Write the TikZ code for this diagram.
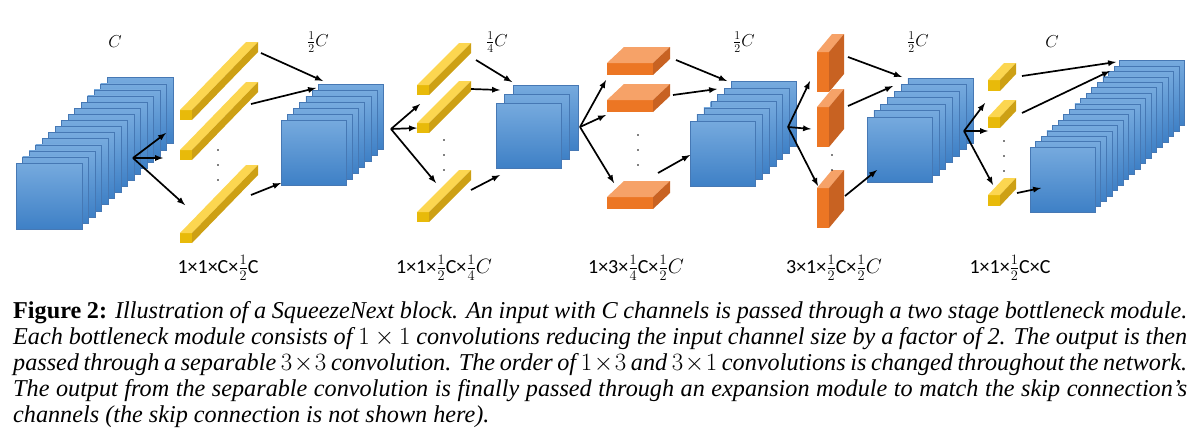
\documentclass[tikz,border=0pt]{standalone}
\usepackage{fontspec}
\setmainfont{Liberation Serif}
\newfontfamily\lbl{Carlito}
\begin{document}
\definecolor{bl1}{RGB}{118,170,222}
\definecolor{bl2}{RGB}{62,128,198}
\definecolor{blE}{RGB}{70,120,180}
\definecolor{yF}{RGB}{232,186,10}
\definecolor{yT}{RGB}{252,214,80}
\definecolor{yS}{RGB}{205,160,20}
\definecolor{oF}{RGB}{236,118,36}
\definecolor{oT}{RGB}{246,162,104}
\definecolor{oS}{RGB}{200,98,34}
\newcommand{\mystack}[6]{% x y size n stepx stepy
  \foreach \i in {#4,...,0}{
    \shade[top color=bl1,bottom color=bl2,draw=blE,line width=0.4pt]
      ({#1+\i*#5},{#2-\i*#6}) rectangle ++(#3,#3);
  }}
\newcommand{\myprism}[9]{% x y w h dx dy front top side
  \fill[#7] (#1,#2) rectangle ++(#3,#4);
  \fill[#8] (#1,#2) -- ++(#5,#6) -- ++(#3,0) -- ({#1+#3},#2) -- cycle;
  \fill[#9] ({#1+#3},#2) -- ++(#5,#6) -- ++(0,#4) -- ({#1+#3},{#2+#4}) -- cycle;}
\begin{tikzpicture}[x=1pt,y=-1pt,
  arr/.style={-latex,line width=1.7pt},
  dot/.style={circle,fill=black,inner sep=0.6pt},
  top/.style={font=\fontsize{18}{20}\selectfont},
  bot/.style={font=\lbl\fontsize{20}{22}\selectfont}]
\useasboundingbox (0,0) rectangle (1201,442);
% stacks
\mystack{16}{163}{66}{14}{6.5}{6.1}
\mystack{281}{120}{65}{6}{6.2}{5.9}
\mystack{496}{103}{65}{2}{8.5}{9}
\mystack{690}{121}{65}{6}{6.9}{6.6}
\mystack{867}{117}{65}{6}{6.8}{6.5}
\mystack{1030}{147}{65}{16}{5.6}{5.4}
% group 1 yellow bars
\foreach \y in {110,150,233}{\myprism{180}{\y}{12}{10}{66}{-68}{yF}{yT}{yS}}
% group 2
\foreach \y in {85,123,212}{\myprism{417}{\y}{12}{10}{42}{-42}{yF}{yT}{yS}}
% group 3 orange slabs
\foreach \y in {63,100,197}{\myprism{607}{\y}{46}{12}{17}{-16}{oF}{oT}{oS}}
% group 4 orange vertical
\foreach \y in {52,107,188}{\myprism{817}{\y}{12}{40}{15}{-18}{oF}{oT}{oS}}
% group 5 cubes
\foreach \y in {80,117,195}{\myprism{988}{\y}{12}{11}{16}{-17}{yF}{yT}{yS}}
% dots
\foreach \x/\a/\b/\c in {218/150/165/180,444/140/155/170,638/135/150/165,1004/141/156/171}{
  \node[dot] at (\x,\a) {}; \node[dot] at (\x,\b) {}; \node[dot] at (\x,\c) {};}
\node[dot] at (832,155) {}; \node[dot] at (832,170) {};
% arrows
\coordinate (f1) at (133,158);
\foreach \t in {(166,133),(163,158),(185,205)} \draw[arr] (f1) -- \t;
\draw[arr] (261,53) -- (323,81); \draw[arr] (251,104) -- (316,88); \draw[arr] (251,195) -- (281,183);
\coordinate (f2) at (391,129);
\foreach \t in {(420,104),(417,128),(436,183)} \draw[arr] (f2) -- \t;
\draw[arr] (476,60) -- (512,82); \draw[arr] (471,89) -- (500,90); \draw[arr] (471,190) -- (500,175);
\coordinate (f3) at (580,127);
\foreach \t in {(606,80),(606,115),(614,183)} \draw[arr] (f3) -- \t;
\draw[arr] (676,60) -- (727,81); \draw[arr] (673,95) -- (717,89); \draw[arr] (658,173) -- (690,155);
\coordinate (f4) at (788,127);
\foreach \t in {(810,81),(811,129),(818,186)} \draw[arr] (f4) -- \t;
\draw[arr] (848,57) -- (902,77); \draw[arr] (848,106) -- (893,86); \draw[arr] (845,196) -- (877,170);
\coordinate (f5) at (964,131);
\foreach \t in {(985,103),(988,131),(993,185)} \draw[arr] (f5) -- \t;
\draw[arr] (1022,76) -- (1116,62); \draw[arr] (1022,113) -- (1110,71); \draw[arr] (1017,193) -- (1041,188);
% top labels
\node[top] (t1) at (115,42) {$C$};
\node[top] (t2) at (318,42) {$\frac{1}{2}C$};
\node[top] (t3) at (497,42) {$\frac{1}{4}C$};
\node[top] (t4) at (744,42) {$\frac{1}{2}C$};
\node[top] (t5) at (918,42) {$\frac{1}{2}C$};
\node[top] (t6) at (1052,42) {$C$};
% bottom labels
\node[bot] (b1) at (218,268) {1×1×C×$\frac{1}{2}$C};
\node[bot] (b2) at (444,268) {1×1×$\frac{1}{2}$C×$\frac{1}{4}C$};
\node[bot] (b3) at (636,268) {1×3×$\frac{1}{4}$C×$\frac{1}{2}C$};
\node[bot] (b4) at (834,268) {3×1×$\frac{1}{2}$C×$\frac{1}{2}C$};
\node[bot] (b5) at (1010,268) {1×1×$\frac{1}{2}$C×C};
% caption
\node[anchor=north west,inner sep=0pt,text width=1174pt,align=justify,
  font=\fontsize{24.2}{26}\selectfont] (cap) at (13,301) {\textbf{Figure 2:} \itshape Illustration of a SqueezeNext block. An input with C channels is passed through a two stage bottleneck module.\linebreak Each bottleneck module consists of $1\times1$ convolutions reducing the input channel size by a factor of 2. The output is then\linebreak passed through a separable $3\times3$ convolution. The order of $1\times3$ and $3\times1$ convolutions is changed throughout the network.\linebreak The output from the separable convolution is finally passed through an expansion module to match the skip connection's\linebreak channels (the skip connection is not shown here).};
\end{tikzpicture}
\end{document}
